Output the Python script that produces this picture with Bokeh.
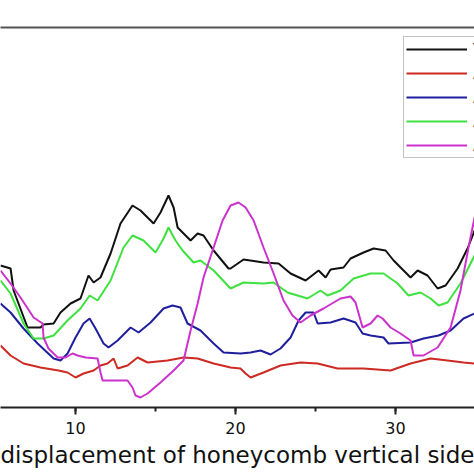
from bokeh.plotting import figure
from bokeh.models import Range1d, LinearAxis, Legend, LegendItem, SingleIntervalTicker, FixedTicker
from bokeh.embed import file_html
from bokeh.resources import INLINE

# series values (x: displacement, y: arbitrary units)
x_total = [5.31, 5.94, 6.13, 7.0, 7.81, 8.0, 8.63, 9.06, 9.69, 10.31, 10.81, 11.13, 11.56, 12.19, 12.81,
           13.56, 14.06, 14.88, 15.31, 15.81, 16.13, 16.38, 17.19, 17.63, 18.0, 18.63, 19.56, 19.69, 20.5,
           21.75, 22.69, 23.44, 24.38, 25.19, 25.63, 25.94, 26.75, 27.19, 28.0, 28.63, 29.38, 29.88, 30.94,
           31.38, 32.0, 32.63, 33.13, 33.88, 34.5, 34.94]
y_total = [14.2, 13.9, 11.7, 8.0, 8.0, 8.3, 8.4, 9.5, 10.4, 10.9, 13.2, 12.5, 13.0, 15.4, 18.4,
           20.2, 19.7, 18.4, 19.5, 21.2, 20.0, 18.0, 16.7, 17.4, 17.2, 15.7, 13.9, 13.9, 14.8,
           14.5, 14.4, 13.4, 12.7, 13.7, 13.0, 13.8, 14.0, 14.9, 15.5, 15.9, 15.7, 14.7, 13.0,
           13.7, 13.2, 11.9, 12.2, 13.9, 15.9, 17.7]

x_a1 = [5.31, 5.94, 6.75, 7.81, 8.94, 9.5, 10.0, 10.5, 11.13, 11.56, 12.0, 12.38, 12.63, 13.25, 13.88,
        14.5, 15.75, 16.75, 17.63, 18.63, 19.69, 20.31, 20.63, 20.94, 21.75, 22.81, 24.06, 25.13, 26.38,
        28.0, 29.69, 30.94, 32.19, 33.25, 34.25, 34.94]
y_a1 = [6.2, 5.2, 4.4, 4.0, 3.7, 3.5, 3.0, 3.4, 3.7, 4.2, 4.4, 4.9, 3.9, 4.2, 5.0,
        4.5, 4.7, 5.0, 4.9, 4.4, 4.0, 3.9, 3.4, 3.0, 3.5, 4.2, 4.5, 4.4, 3.9,
        3.9, 3.7, 4.4, 4.9, 4.7, 4.5, 4.4]

x_a2 = [5.31, 5.94, 6.75, 7.63, 8.63, 9.06, 9.5, 10.0, 10.5, 10.88, 11.25, 11.75, 12.06, 12.63, 13.44,
        13.94, 14.69, 15.5, 16.06, 16.56, 17.0, 17.81, 18.63, 19.25, 20.31, 20.94, 21.56, 22.19, 22.81,
        23.44, 23.94, 24.38, 24.88, 25.13, 25.94, 26.75, 27.5, 27.94, 28.44, 29.25, 29.56, 30.94, 31.75,
        32.69, 33.44, 34.25, 34.94]
y_a2 = [10.4, 9.5, 7.9, 6.4, 4.9, 4.7, 5.4, 7.0, 8.4, 8.9, 7.9, 6.4, 6.0, 6.7, 8.0,
        7.5, 8.5, 9.9, 10.2, 10.0, 8.4, 7.7, 6.4, 5.5, 5.4, 5.5, 5.7, 5.3, 5.9,
        7.0, 8.7, 9.5, 9.5, 8.4, 8.5, 8.9, 8.5, 7.4, 7.2, 7.0, 6.4, 6.5, 6.9,
        7.2, 7.7, 8.9, 9.4]

x_a3 = [5.31, 5.94, 6.75, 7.38, 8.0, 8.63, 9.5, 10.31, 10.88, 11.38, 12.19, 13.0, 13.56, 14.25, 15.0,
        15.5, 15.81, 16.25, 16.69, 17.38, 17.81, 18.63, 19.69, 20.5, 21.75, 22.38, 23.25, 24.5, 25.31,
        25.75, 26.56, 27.38, 28.44, 29.25, 30.13, 30.81, 31.56, 32.19, 32.69, 33.25, 34.06, 34.94]
y_a3 = [12.7, 11.4, 8.4, 6.9, 6.9, 7.2, 8.7, 9.9, 11.2, 10.7, 12.7, 16.0, 17.2, 16.7, 15.5,
        16.9, 18.0, 16.7, 15.7, 14.5, 14.7, 13.7, 11.9, 12.5, 12.4, 12.5, 11.5, 10.9, 11.7,
        11.2, 11.7, 12.9, 13.4, 13.4, 12.4, 11.2, 11.5, 10.9, 10.2, 10.5, 12.4, 15.2]

x_a4 = [5.31, 5.94, 6.56, 7.38, 7.94, 8.0, 8.31, 8.88, 9.38, 9.81, 10.13, 10.63, 11.38, 11.56, 11.69,
        12.38, 13.25, 13.56, 13.75, 14.06, 14.5, 15.31, 16.13, 16.75, 17.19, 17.63, 18.0, 18.63, 19.19,
        19.69, 20.19, 20.63, 21.13, 21.75, 22.38, 23.0, 23.56, 24.06, 24.69, 25.5, 26.56, 27.19, 27.5,
        27.94, 28.44, 28.88, 29.19, 29.69, 30.31, 30.94, 31.13, 31.75, 32.63, 33.44, 34.06, 34.56, 34.94]
y_a4 = [13.7, 12.4, 11.0, 9.0, 8.4, 7.0, 5.9, 5.0, 5.0, 5.4, 5.2, 5.0, 4.9, 3.5, 2.7,
        2.7, 2.7, 2.0, 1.2, 1.0, 1.4, 2.5, 3.7, 4.7, 7.7, 10.4, 13.0, 16.0, 18.7,
        20.2, 20.5, 20.0, 18.7, 16.0, 13.4, 10.7, 9.2, 8.5, 9.2, 9.9, 10.9, 11.1, 10.5,
        8.0, 8.4, 9.2, 8.9, 8.0, 7.4, 6.7, 5.2, 5.2, 6.0, 8.0, 11.7, 16.0, 19.0]

labels = ["Total", "A1", "A2", "A3", "A4"]
colors = ["#111111", "#cc2a22", "#1f1f9e", "#3ee23e", "#cc33cc"]

p = figure(width=474, height=474, output_backend="svg", toolbar_location=None,
           x_range=Range1d(5.31, 34.935), y_range=Range1d(0, 38),
           min_border_left=0, min_border_right=0, min_border_top=27, min_border_bottom=67)
p.outline_line_color = None
p.grid.visible = False
p.yaxis.visible = False
p.background_fill_color = "white"

ax = p.xaxis[0]
ax.ticker = SingleIntervalTicker(interval=10, num_minor_ticks=2)
ax.axis_label = "displacement of honeycomb vertical side"
ax.axis_label_text_font = "DejaVu Sans"
ax.axis_label_text_font_size = "23px"
ax.axis_label_text_font_style = "normal"
ax.axis_label_text_color = "#111111"
ax.axis_label_text_line_height = 1.0
ax.axis_label_standoff = 5
ax.major_label_text_font = "DejaVu Sans"
ax.major_label_text_font_size = "16px"
ax.major_label_text_color = "#111111"
ax.major_label_text_line_height = 1.0
ax.major_label_standoff = 7
ax.axis_line_width = 2
ax.axis_line_color = "#222222"
ax.major_tick_line_width = 2
ax.major_tick_line_color = "#222222"
ax.major_tick_out = 7
ax.major_tick_in = 0
ax.minor_tick_line_width = 2
ax.minor_tick_line_color = "#222222"
ax.minor_tick_out = 4
ax.minor_tick_in = 0

top = LinearAxis(ticker=FixedTicker(ticks=[]), axis_line_width=2, axis_line_color="#555555",
                 major_tick_line_color=None, minor_tick_line_color=None)
p.add_layout(top, "above")

series = [(x_total, y_total), (x_a1, y_a1), (x_a2, y_a2), (x_a3, y_a3), (x_a4, y_a4)]
items = []
for (xs, ys), lab, col in zip(series, labels, colors):
    r = p.line(xs, ys, line_color=col, line_width=2)
    items.append(LegendItem(label=lab, renderers=[r]))

leg = Legend(items=items, location=(403, 249), padding=2, margin=0, spacing=4,
             glyph_width=61, glyph_height=20, label_height=20, label_standoff=6,
             label_text_font="DejaVu Sans", label_text_font_size="16px",
             border_line_color="#888888", border_line_width=1.5,
             background_fill_color="white", background_fill_alpha=1.0)
p.add_layout(leg)

open("out.html", "w").write(file_html(p, INLINE))
